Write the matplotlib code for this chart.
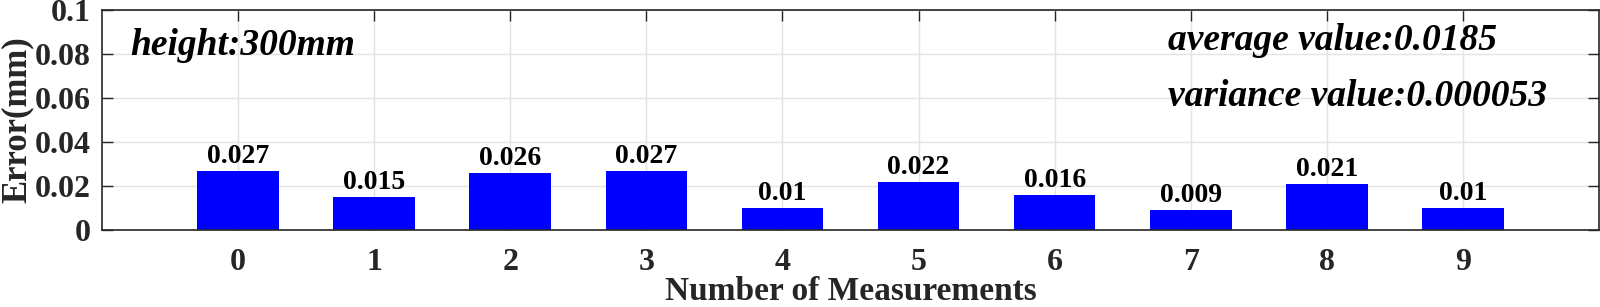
import matplotlib
matplotlib.use('Agg')
import matplotlib.pyplot as plt
import numpy as np

# measurement data
trials = [0, 1, 2, 3, 4, 5, 6, 7, 8, 9]
errors = [0.027, 0.015, 0.026, 0.027, 0.01, 0.022, 0.016, 0.009, 0.021, 0.01]
value_labels = ['0.027', '0.015', '0.026', '0.027', '0.01', '0.022', '0.016', '0.009', '0.021', '0.01']
y_ticks = [0, 0.02, 0.04, 0.06, 0.08, 0.1]
y_ticklabels = ['0', '0.02', '0.04', '0.06', '0.08', '0.1']

plt.rcParams['font.family'] = ['Liberation Serif', 'DejaVu Serif']
plt.rcParams['font.weight'] = 'bold'

fig = plt.figure(figsize=(16, 3.07), dpi=100)
ax = fig.add_axes([102/1600, 1 - 230/307, 1497/1600, 220/307])

ax.bar(trials, errors, width=0.6, color='#0000ff', zorder=2)
for x, v, s in zip(trials, errors, value_labels):
    ax.text(x, v + 0.0008, s, ha='center', va='bottom', fontsize=20, fontweight='bold', color='black', zorder=3)

ax.set_xlim(-1, 10)
ax.set_ylim(0, 0.1)
ax.set_xticks(trials)
ax.set_yticks(y_ticks)
ax.set_yticklabels(y_ticklabels)
ax.grid(True, color='#e3e3e3', linewidth=1, zorder=0)
ax.set_axisbelow(True)

grey = '#262626'
for sp in ax.spines.values():
    sp.set_color(grey)
    sp.set_linewidth(1.2)
ax.tick_params(direction='in', length=8, width=1, colors=grey, labelsize=23,
               top=True, right=True)
ax.tick_params(axis='x', pad=13)
ax.tick_params(axis='y', pad=8)
for lab in ax.get_xticklabels() + ax.get_yticklabels():
    lab.set_fontweight('bold')

ax.set_xlabel('Number of Measurements', fontsize=24, fontweight='bold', color=grey)
ax.xaxis.label.set_va('baseline')
ax.xaxis.set_label_coords(0.5, -0.318)
ax.set_ylabel('Error(mm)', fontsize=25, fontweight='bold', color=grey, labelpad=1)

ax.text(-0.79, 0.084, 'height:300mm', fontsize=27, fontweight='bold', fontstyle='italic', va='center', color='black')
ax.text(6.83, 0.086, 'average value:0.0185', fontsize=27, fontweight='bold', fontstyle='italic', va='center', color='black')
ax.text(6.83, 0.0605, 'variance value:0.000053', fontsize=27, fontweight='bold', fontstyle='italic', va='center', color='black')

fig.savefig('out.png', dpi=100)
